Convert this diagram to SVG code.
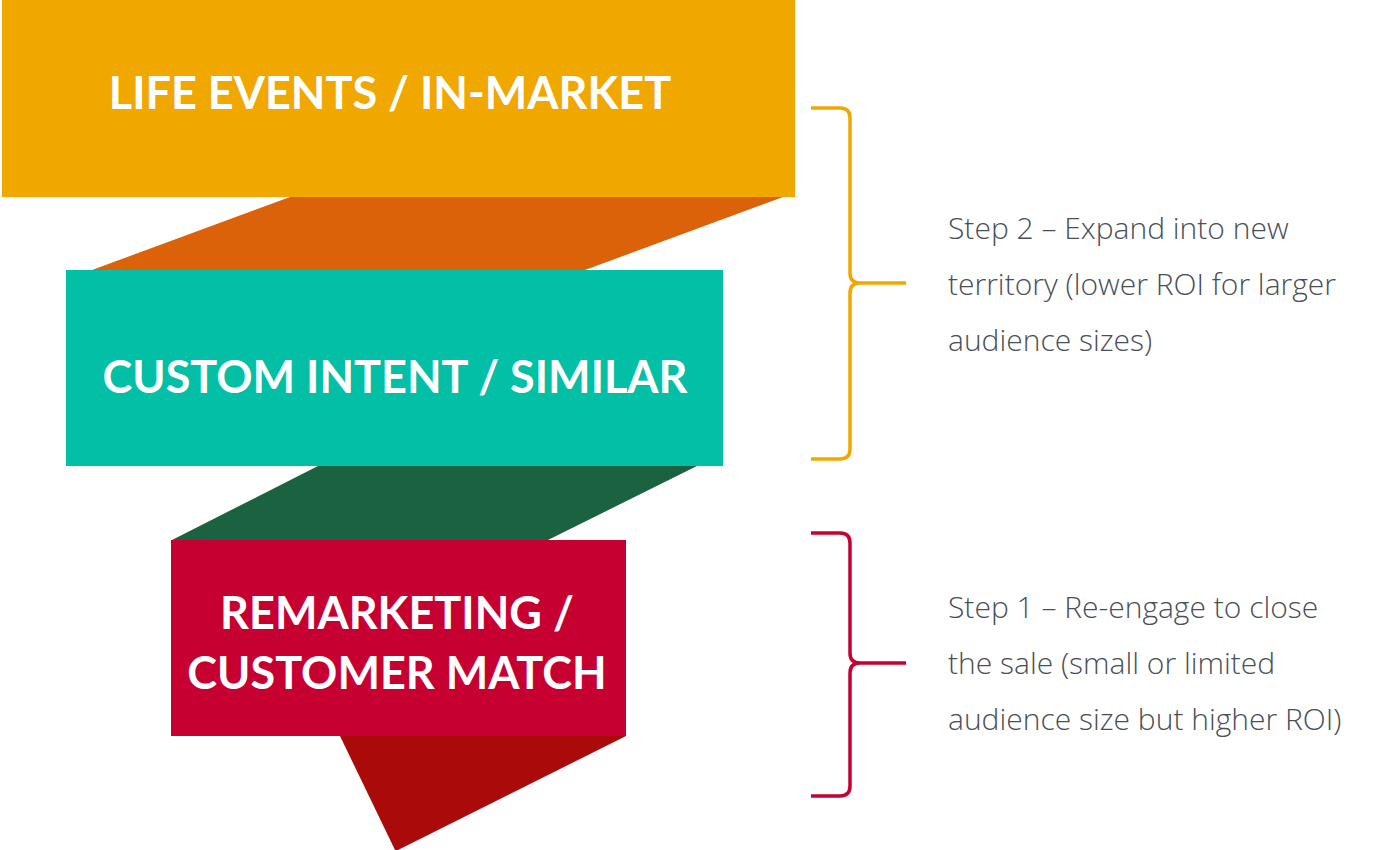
<svg xmlns="http://www.w3.org/2000/svg" width="1388" height="850" viewBox="0 0 1388 850">
<style>
.t{font-family:Lato,"Open Sans",sans-serif;font-weight:bold;font-size:45px;fill:#fff;text-anchor:middle}
.s{font-family:"Open Sans",sans-serif;font-weight:300;font-size:30px;fill:#4a4f55}
.b{fill:none;stroke-width:3.5;stroke-linejoin:round}
</style>
<rect width="1388" height="850" fill="#fff"/>
<g id="connectors">
<polygon id="ribbon1" points="290,197 783,197 585,270 92,270" fill="#DB6209"/>
<polygon id="ribbon2" points="318,466 697,466 548,540 172,540" fill="#1B6340"/>
<polygon id="ribbon3" points="340,736 626,736 398,850 395,850" fill="#AB0A0A"/>
<path id="brace2" class="b" stroke="#F0A800" d="M811,108 H840 Q850,108 850,118 V273 Q850,283 860,283 H906 M860,283 Q850,283 850,293 V449 Q850,459 840,459 H811"/>
<path id="brace1" class="b" stroke="#C60030" d="M811,533 H840 Q850,533 850,543 V653 Q850,663 860,663 H906 M860,663 Q850,663 850,673 V786 Q850,796 840,796 H811"/>
</g>
<g id="node1"><rect x="2" y="0" width="793" height="197" fill="#F0A800"/><text class="t" x="390" y="109">LIFE EVENTS / IN-MARKET</text></g>
<g id="node2"><rect x="66" y="270" width="657" height="196" fill="#03BFA5"/><text class="t" x="395" y="393">CUSTOM INTENT / SIMILAR</text></g>
<g id="node3"><rect x="171" y="540" width="455" height="196" fill="#C60030"/><text class="t" x="397" y="629">REMARKETING /</text><text class="t" x="397" y="689">CUSTOMER MATCH</text></g>
<g id="label2"><text class="s" x="948" y="239">Step 2 – Expand into new</text><text class="s" x="948" y="295">territory (lower ROI for larger</text><text class="s" x="948" y="351">audience sizes)</text></g>
<g id="label1"><text class="s" x="948" y="618">Step 1 – Re-engage to close</text><text class="s" x="948" y="674">the sale (small or limited</text><text class="s" x="948" y="730">audience size but higher ROI)</text></g>
</svg>
